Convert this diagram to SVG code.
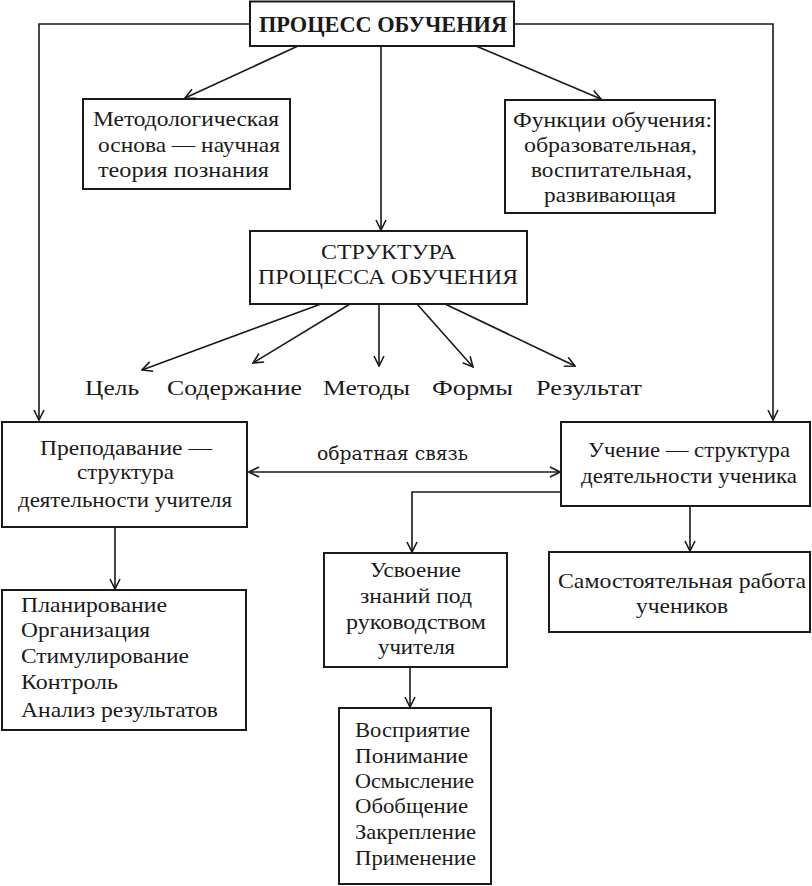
<svg xmlns="http://www.w3.org/2000/svg" width="812" height="886" viewBox="0 0 812 886">
<defs>
<marker id="arr" viewBox="0 0 12 12" refX="11" refY="6" markerWidth="12" markerHeight="12" markerUnits="userSpaceOnUse" orient="auto-start-reverse">
<path d="M1,1 L11,6 L1,11" fill="none" stroke="#1a1a1a" stroke-width="1.6"/>
</marker>
</defs>
<style>
.box{fill:#fff;stroke:#1a1a1a;stroke-width:2}
.ln{fill:none;stroke:#1a1a1a;stroke-width:1.6}
text{font-family:"Liberation Serif","Times New Roman",serif;font-size:21px;fill:#1a1a1a}
.b{font-weight:bold;font-size:24px}
.lbl{font-family:"DejaVu Serif","Liberation Serif",serif;font-size:19px}
</style>
<rect width="812" height="886" fill="#fff"/>
<g id="connectors">
<path class="ln" d="M250,24 H39 V420" marker-end="url(#arr)"/>
<path class="ln" d="M514,24 H773 V420" marker-end="url(#arr)"/>
<path class="ln" d="M298,46 L185,98" marker-end="url(#arr)"/>
<path class="ln" d="M476,46 L601,99" marker-end="url(#arr)"/>
<path class="ln" d="M381,46 V230" marker-end="url(#arr)"/>
<path class="ln" d="M321,304 L142,370" marker-end="url(#arr)"/>
<path class="ln" d="M350,304 L253,363" marker-end="url(#arr)"/>
<path class="ln" d="M379,304 V366" marker-end="url(#arr)"/>
<path class="ln" d="M417,304 L473,367" marker-end="url(#arr)"/>
<path class="ln" d="M445,304 L575,366" marker-end="url(#arr)"/>
<path class="ln" d="M249,472 H560" marker-start="url(#arr)" marker-end="url(#arr)"/>
<path class="ln" d="M561,492 H412 V552" marker-end="url(#arr)"/>
<path class="ln" d="M690,506 V551" marker-end="url(#arr)"/>
<path class="ln" d="M115,527 V589" marker-end="url(#arr)"/>
<path class="ln" d="M410,667 V707" marker-end="url(#arr)"/>
<text class="lbl" x="317" y="460" textLength="151" lengthAdjust="spacingAndGlyphs">обратная связь</text>
</g>
<g id="process">
<rect class="box" x="250" y="1.5" width="264" height="44.5"/>
<text class="b" x="259" y="32" textLength="248" lengthAdjust="spacingAndGlyphs">ПРОЦЕСС ОБУЧЕНИЯ</text>
</g>
<g id="method">
<rect class="box" x="83" y="99" width="207" height="90"/>
<text x="93" y="126" textLength="186" lengthAdjust="spacingAndGlyphs">Методологическая</text>
<text x="98" y="152" textLength="182" lengthAdjust="spacingAndGlyphs">основа — научная</text>
<text x="98" y="177" textLength="171" lengthAdjust="spacingAndGlyphs">теория познания</text>
</g>
<g id="functions">
<rect class="box" x="505" y="100" width="210" height="113"/>
<text x="513" y="127" textLength="199" lengthAdjust="spacingAndGlyphs">Функции обучения:</text>
<text x="524" y="152" textLength="173" lengthAdjust="spacingAndGlyphs">образовательная,</text>
<text x="531" y="177" textLength="161" lengthAdjust="spacingAndGlyphs">воспитательная,</text>
<text x="544" y="202" textLength="132" lengthAdjust="spacingAndGlyphs">развивающая</text>
</g>
<g id="structure">
<rect class="box" x="250" y="231" width="277" height="73"/>
<text x="321" y="259" textLength="135" lengthAdjust="spacingAndGlyphs">СТРУКТУРА</text>
<text x="258" y="284" textLength="260" lengthAdjust="spacingAndGlyphs">ПРОЦЕССА ОБУЧЕНИЯ</text>
</g>
<g id="elements">
<text x="85" y="395" textLength="54" lengthAdjust="spacingAndGlyphs">Цель</text>
<text x="167" y="395" textLength="135" lengthAdjust="spacingAndGlyphs">Содержание</text>
<text x="323" y="395" textLength="87" lengthAdjust="spacingAndGlyphs">Методы</text>
<text x="432" y="395" textLength="81" lengthAdjust="spacingAndGlyphs">Формы</text>
<text x="536" y="395" textLength="106" lengthAdjust="spacingAndGlyphs">Результат</text>
</g>
<g id="teaching">
<rect class="box" x="2" y="422" width="245" height="105"/>
<text x="40" y="455" textLength="172" lengthAdjust="spacingAndGlyphs">Преподавание —</text>
<text x="77" y="479" textLength="97" lengthAdjust="spacingAndGlyphs">структура</text>
<text x="18" y="507" textLength="214" lengthAdjust="spacingAndGlyphs">деятельности учителя</text>
</g>
<g id="learning">
<rect class="box" x="561" y="422" width="249" height="84"/>
<text x="588" y="457" textLength="202" lengthAdjust="spacingAndGlyphs">Учение — структура</text>
<text x="581" y="483" textLength="216" lengthAdjust="spacingAndGlyphs">деятельности ученика</text>
</g>
<g id="planning">
<rect class="box" x="2" y="590" width="244" height="140"/>
<text x="21" y="612" textLength="146" lengthAdjust="spacingAndGlyphs">Планирование</text>
<text x="21" y="637" textLength="129" lengthAdjust="spacingAndGlyphs">Организация</text>
<text x="21" y="663" textLength="168" lengthAdjust="spacingAndGlyphs">Стимулирование</text>
<text x="21" y="689" textLength="97" lengthAdjust="spacingAndGlyphs">Контроль</text>
<text x="21" y="717" textLength="197" lengthAdjust="spacingAndGlyphs">Анализ результатов</text>
</g>
<g id="assimilation">
<rect class="box" x="324" y="553" width="183" height="114"/>
<text x="370" y="577" textLength="91" lengthAdjust="spacingAndGlyphs">Усвоение</text>
<text x="360" y="603" textLength="112" lengthAdjust="spacingAndGlyphs">знаний под</text>
<text x="346" y="629" textLength="140" lengthAdjust="spacingAndGlyphs">руководством</text>
<text x="378" y="654" textLength="77" lengthAdjust="spacingAndGlyphs">учителя</text>
</g>
<g id="independent">
<rect class="box" x="549" y="552" width="261" height="80"/>
<text x="558" y="588" textLength="248" lengthAdjust="spacingAndGlyphs">Самостоятельная работа</text>
<text x="636" y="613" textLength="92" lengthAdjust="spacingAndGlyphs">учеников</text>
</g>
<g id="stages">
<rect class="box" x="339" y="708" width="152" height="176"/>
<text x="355" y="737" textLength="115" lengthAdjust="spacingAndGlyphs">Восприятие</text>
<text x="355" y="763" textLength="113" lengthAdjust="spacingAndGlyphs">Понимание</text>
<text x="355" y="788" textLength="119" lengthAdjust="spacingAndGlyphs">Осмысление</text>
<text x="355" y="813" textLength="113" lengthAdjust="spacingAndGlyphs">Обобщение</text>
<text x="355" y="839" textLength="121" lengthAdjust="spacingAndGlyphs">Закрепление</text>
<text x="355" y="865" textLength="121" lengthAdjust="spacingAndGlyphs">Применение</text>
</g>
</svg>
